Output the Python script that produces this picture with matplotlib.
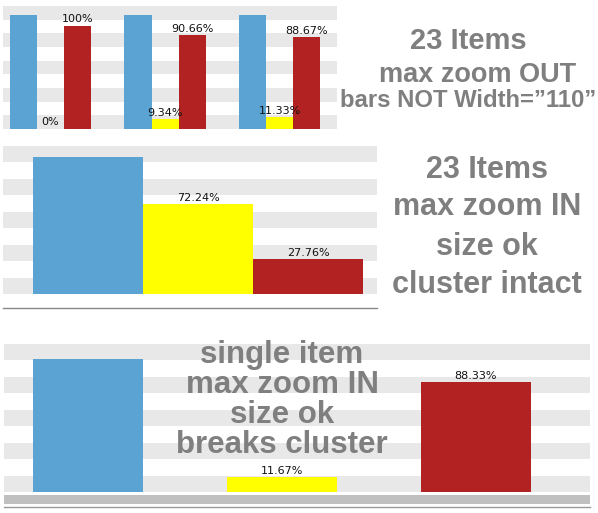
"""
Three bar panels (zoom OUT / zoom IN / single item) with big grey notes.
Layout is done in pixel units of the 598x513 output.
"""
import numpy as np
import matplotlib
matplotlib.use("Agg")
import matplotlib.pyplot as plt
from matplotlib.lines import Line2D
from matplotlib.patches import Rectangle

# ======================= DATA =======================
# panel 1 : 23 items, max zoom OUT (3 clusters blue / yellow / red)
P1_CATS   = ["item A", "item B", "item C"]
P1_BLUE   = [110.3, 110.3, 110.3]
P1_YELLOW = [0.0, 9.34, 11.33]
P1_RED    = [100.0, 90.66, 88.67]

# panel 2 : 23 items, max zoom IN (one cluster)
P2_CATS   = ["item A"]
P2_BLUE   = [110.2]
P2_YELLOW = [72.24]
P2_RED    = [27.76]

# panel 3 : single item, max zoom IN (cluster broken, one bar per slot)
P3_CATS   = ["blue", "yellow", "red"]
P3_VALUES = [106.9, 11.67, 88.33]
P3_LABELS = [False, True, True]

Y_MAX = 119.0
NOTE1 = ["23 Items", "max zoom OUT", "bars NOT Width=\u201d110\u201d"]
NOTE2 = ["23 Items", "max zoom IN", "size ok", "cluster intact"]
NOTE3 = ["single item", "max zoom IN", "size ok", "breaks cluster"]
# ====================================================

W, H, DPI = 598, 513, 100
BLUE, YELLOW, RED = "#5aa3d3", "#ffff00", "#b22222"
BAND = "#e8e8e8"
NOTE_COL = "#7f7f7f"
NOTE_FONT = "Liberation Sans"


def add_ax(fig, x0, y0, x1, y1):
    """axes from pixel box (top-left origin)"""
    ax = fig.add_axes([x0 / W, 1 - y1 / H, (x1 - x0) / W, (y1 - y0) / H])
    for s in ax.spines.values():
        s.set_visible(False)
    ax.set_xticks([]); ax.set_yticks([])
    ax.set_ylim(0, Y_MAX)
    # alternating grey bands, grey at bottom and top
    edges = np.linspace(0, Y_MAX, 10)
    for i in range(0, 9, 2):
        ax.axhspan(edges[i], edges[i + 1], color=BAND, lw=0, zorder=0)
    return ax


def label(ax, x, v):
    ax.annotate("%g%%" % v, (x, v), xytext=(0, 2.6), textcoords="offset points",
                ha="center", va="baseline", fontsize=8, color="#111111", zorder=4)


def note(fig, lines, xc, baselines, sizes):
    for txt, yb, fs in zip(lines, baselines, sizes):
        fig.text(xc / W, 1 - yb / H, txt, ha="center", va="baseline",
                 fontsize=fs, fontweight="bold", color=NOTE_COL, family=NOTE_FONT)


def main():
    fig = plt.figure(figsize=(W / DPI, H / DPI), dpi=DPI)
    fig.patch.set_facecolor("white")

    # Panel 1 ---------------------------------------------------------------
    ax1 = add_ax(fig, 3, 6, 337, 129)
    x = np.arange(len(P1_CATS))
    bw = 0.236
    ax1.bar(x - bw, P1_BLUE, bw, color=BLUE, lw=0, zorder=2)
    ax1.bar(x, P1_YELLOW, bw, color=YELLOW, lw=0, zorder=2)
    ax1.bar(x + bw, P1_RED, bw, color=RED, lw=0, zorder=2)
    for i in range(len(x)):
        label(ax1, x[i], P1_YELLOW[i])
        label(ax1, x[i] + bw, P1_RED[i])
    ax1.set_xlim(-0.415, 2.502)

    # Panel 2 ---------------------------------------------------------------
    ax2 = add_ax(fig, 3, 146, 377, 294)
    x = np.arange(len(P2_CATS))
    ax2.bar(x - 1, P2_BLUE, 1, color=BLUE, lw=0, zorder=2)
    ax2.bar(x, P2_YELLOW, 1, color=YELLOW, lw=0, zorder=2)
    ax2.bar(x + 1, P2_RED, 1, color=RED, lw=0, zorder=2)
    for i in range(len(x)):
        label(ax2, x[i], P2_YELLOW[i])
        label(ax2, x[i] + 1, P2_RED[i])
    ax2.set_xlim(-1.773, 1.627)
    fig.add_artist(Line2D([3 / W, 377 / W], [1 - 308 / H] * 2,
                          color="#888888", lw=1.0))

    # Panel 3 ---------------------------------------------------------------
    ax3 = add_ax(fig, 4, 344, 590, 492)
    x = np.arange(len(P3_CATS))
    ax3.bar(x, P3_VALUES, 0.567, color=[BLUE, YELLOW, RED], lw=0, zorder=2)
    for i in range(len(x)):
        if P3_LABELS[i]:
            label(ax3, x[i], P3_VALUES[i])
    ax3.set_xlim(-0.433, 2.588)
    fig.add_artist(Rectangle((4 / W, 1 - 504 / H), 586 / W, 9 / H,
                             transform=fig.transFigure, color="#c0c0c0", lw=0))
    fig.add_artist(Line2D([4 / W, 590 / W], [1 - 506.5 / H] * 2,
                          color="#999999", lw=1.0))

    # Notes -----------------------------------------------------------------
    note(fig, NOTE1[:1], 468, [49], [21])
    note(fig, NOTE1[1:2], 478, [82], [19.5])
    note(fig, NOTE1[2:], 468, [107], [17.2])
    note(fig, NOTE2, 487, [178, 215, 255, 293], [22] * 4)
    note(fig, NOTE3, 282, [363, 393, 423, 453], [22.5] * 4)

    fig.savefig("out.png", dpi=DPI, facecolor="white")
    plt.close(fig)


if __name__ == "__main__":
    main()
